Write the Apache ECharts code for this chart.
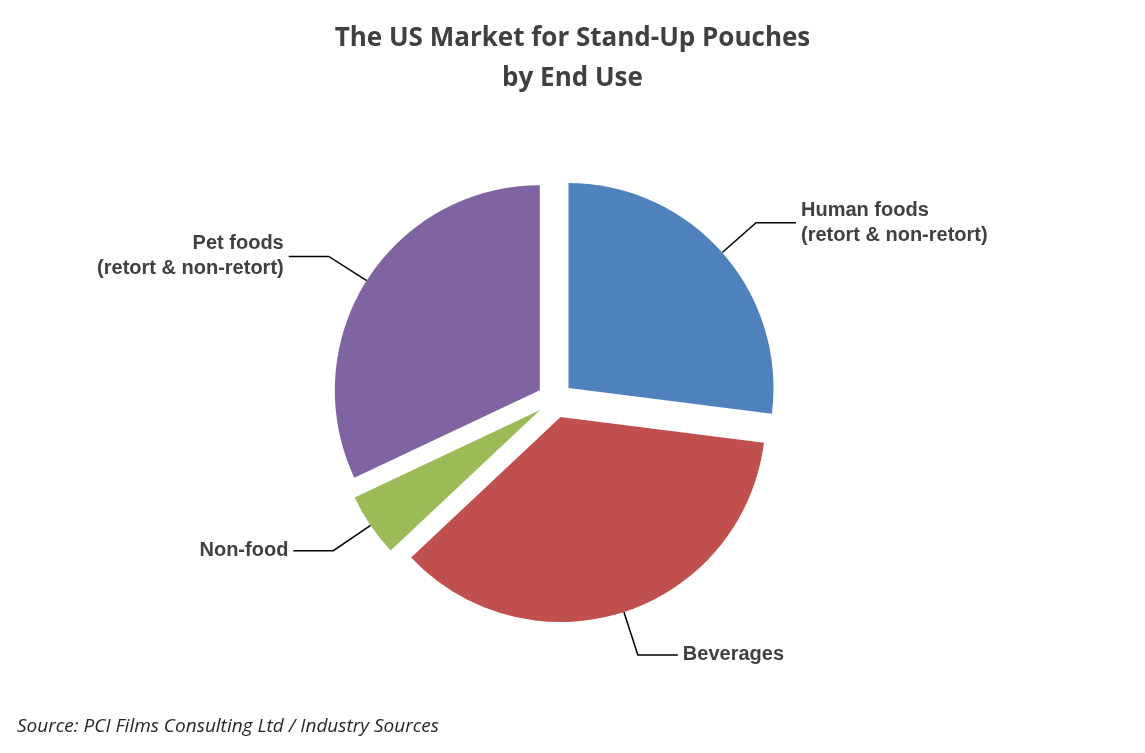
<!DOCTYPE html>
<html><head><meta charset="utf-8">
<script src="https://cdn.jsdelivr.net/npm/echarts@6/dist/echarts.min.js"></script>
<style>html,body{margin:0;padding:0;background:#fff}#c{width:1145px;height:753px}</style>
</head><body><div id="c"></div>
<script>
const categories = ["Human foods\n(retort & non-retort)", "Beverages", "Non-food", "Pet foods\n(retort & non-retort)"];
const values = [27, 36, 5, 32];
const colors = ["#4F81BD", "#C0504D", "#9BBB59", "#8064A2"];
const chart = echarts.init(document.getElementById('c'));
chart.setOption({
  backgroundColor: '#fff',
  title: [{
    text: 'The US Market for Stand-Up Pouches\nby End Use',
    left: 'center', top: 14,
    textStyle: {fontFamily: 'Open Sans', fontSize: 26, fontWeight: 'bold', color: '#404040', lineHeight: 40}
  }, {
    text: 'Source: PCI Films Consulting Ltd / Industry Sources',
    left: 12, top: 712,
    textStyle: {fontFamily: 'Open Sans', fontSize: 19, fontStyle: 'italic', fontWeight: 'normal', color: '#262626'}
  }],
  series: [{
    type: 'pie',
    center: [555, 400],
    radius: 205,
    startAngle: 90,
    selectedMode: 'multiple',
    selectedOffset: 18,
    data: categories.map((n, i) => ({name: n, value: values[i], selected: true, itemStyle: {color: colors[i]}})),
    label: {
      show: true, fontFamily: 'Liberation Sans Narrow, Arial', fontSize: 20, fontWeight: 'bold',
      color: '#404040', lineHeight: 25, align: 'center'
    },
    labelLine: {show: true, length: 45, length2: 40, lineStyle: {color: '#000', width: 1.5}},
    emphasis: {disabled: true}
  }]
});
</script></body></html>
